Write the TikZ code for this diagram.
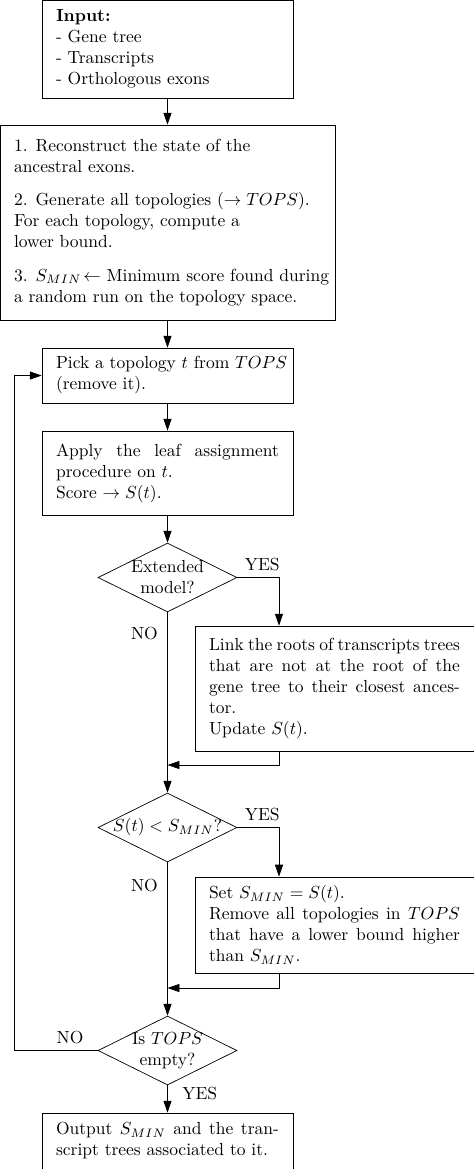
\documentclass[tikz,border=0pt]{standalone}
\usepackage{amsmath,amsfonts}
\usetikzlibrary{shapes.geometric,arrows.meta}

\tikzset{
   block/.style={draw, rectangle, inner xsep=8pt, align=left},
   sidebox/.style={block, text width=143.4pt, align=justify},
   decision/.style={draw, diamond, aspect=2, inner sep=-6pt,
      minimum width=79.4pt, minimum height=39.4pt, align=center},
   arr/.style={-{Triangle[length=6.8pt,width=4.6pt]}}
}

\begin{document}
\begin{tikzpicture}[x=0.5714pt,y=-0.5714pt]

   \useasboundingbox (0,0) rectangle (474,1169);

   \node[block, text width=127.4pt, minimum height=56pt] (input) at (167.5,49)
      {\textbf{Input:}\\ - Gene tree\\ - Transcripts\\ - Orthologous exons};

   \node[block, text width=175.4pt, minimum height=111.4pt] (prep) at (167.5,222.5)
      {1.\hspace{4.5pt}Reconstruct the state of the\\ ancestral exons.\\[7pt]
       2.\hspace{4.5pt}Generate all topologies ($\to TOPS$).\\ For each topology, compute a\\ lower bound.\\[7pt]
       \mbox{3.\hspace{4.5pt}$S_{MIN}\!\leftarrow$ Minimum score found during}\\ a random run on the topology space.};

   \node[block, text width=127.4pt, minimum height=31.4pt] (pick) at (167.5,375.5)
      {\mbox{Pick a topology $t$ from $TOPS$}\\ (remove it).};

   \node[block, text width=127.4pt, minimum height=48pt, align=justify] (apply) at (167.5,473)
      {Apply the leaf assignment procedure on $t$.\\ Score $\to S(t)$.};

   \node[decision] (ext) at (167.5,577.5) {Extended\\ model?};

   \node[sidebox, minimum height=71.4pt] (link) at (334.5,688.5)
      {Link the roots of transcripts trees that are not at the root of the gene tree to their closest ancestor.\\ Update $S(t)$.};

   \node[decision] (cmp) at (167.5,827.5) {$S(t) < S_{MIN}$?};

   \node[sidebox, minimum height=54.9pt] (setmin) at (334.5,925)
      {Set $S_{MIN} = S(t)$.\\ Remove all topologies in $TOPS$ that have a lower bound higher than $S_{MIN}$.};

   \node[decision] (empty) at (167.5,1050.5) {Is $TOPS$\\ empty?};

   \node[block, text width=127.4pt, minimum height=32pt, align=justify] (out) at (167.5,1141)
      {Output $S_{MIN}$ and the transcript trees associated to it.};

   \coordinate (side) at (279,0);
   \coordinate (j1) at (167.5,765);
   \coordinate (j2) at (167.5,988);
   \coordinate (loop) at (14,1050.5);

   \draw[arr] (input) -- (prep);
   \draw[arr] (prep) -- (pick);
   \draw[arr] (pick) -- (apply);
   \draw[arr] (apply) -- (ext);

   \draw[arr] (ext.east) -| node[pos=0.3,above]{YES} (side |- link.north);
   \draw[arr] (ext.south) -- node[pos=0.12,left=2pt]{NO} (cmp.north);
   \draw[arr] (side |- link.south) |- (j1);

   \draw[arr] (cmp.east) -| node[pos=0.3,above]{YES} (side |- setmin.north);
   \draw[arr] (cmp.south) -- node[pos=0.15,left=2pt]{NO} (empty.north);
   \draw[arr] (side |- setmin.south) |- (j2);

   \draw[arr] (empty.south) -- node[pos=0.29,right=5pt]{YES} (out.north);
   \draw[arr] (empty.west) -- node[pos=0.33,above]{NO} (loop) |- (pick.west);

\end{tikzpicture}
\end{document}
